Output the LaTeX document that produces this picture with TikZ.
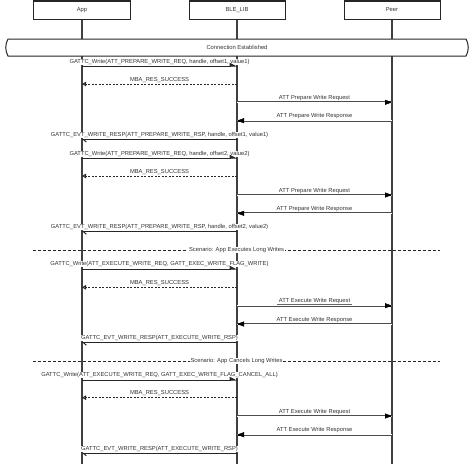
\documentclass[tikz,border=0pt]{standalone}
\usepackage{fontspec}
\setmainfont{Liberation Sans}
\usetikzlibrary{arrows.meta,calc}
\begin{document}
\begin{tikzpicture}[x=1pt,y=-1pt,
  font=\fontsize{5.8}{7}\selectfont,
  lifeline/.style={draw=black!75, line width=1.1pt},
  hdr/.style={draw=black!85, fill=white, line width=0.9pt, minimum width=97pt, minimum height=19pt, inner sep=0pt, text=black!80},
  lbl/.style={fill=white, inner xsep=0.8pt, inner ysep=0.3pt, text=black!80},
  call/.style={draw=black!85, line width=1pt, -{Triangle[left,length=6.5pt,width=6.5pt]}},
  ret/.style={draw=black!85, line width=1pt, dash pattern=on 2pt off 1.5pt, -{Triangle[open,length=4pt,width=4.5pt]}},
  evt/.style={draw=black!85, line width=1pt, -{Straight Barb[left,length=3pt,width=5pt]}},
  dbl/.style={draw=black!70, line width=0.7pt, double=white, double distance=0.8pt},
  tipline/.style={draw=black, fill=black, line width=0.4pt, -{Triangle[length=7pt,width=5pt]}},
  uline/.style={draw=black!60, line width=0.5pt},
  divider/.style={draw=black!85, line width=0.9pt, dash pattern=on 3pt off 2pt},
  connbox/.style={draw=black!85, fill=white, line width=1pt}
]
\useasboundingbox (0,0) rectangle (474,464);

% headers
\node[hdr] (app) at (82,10) {App};
\node[hdr, minimum width=96pt] (ble) at (237,10) {BLE\_LIB};
\node[hdr, minimum width=96pt] (peer) at (392,10) {Peer};
\fill[black!85] (app.north west) rectangle ($(app.north east)+(0,1.8)$);
\fill[black!85] (ble.north west) rectangle ($(ble.north east)+(0,1.8)$);
\fill[black!85] (peer.north west) rectangle ($(peer.north east)+(0,1.8)$);

% lifelines
\coordinate (append) at (82,464);
\coordinate (bleend) at (237,464);
\coordinate (peerend) at (392,464);
\draw[lifeline] (app.south) -- (append);
\draw[lifeline] (ble.south) -- (bleend);
\draw[lifeline] (peer.south) -- (peerend);

% connection established
\draw[connbox] (8,39) -- (466,39) .. controls (469,44) and (469,51) .. (466,56) -- (8,56) .. controls (5,51) and (5,44) .. (8,39) -- cycle;
\node[text=black!80, inner sep=0pt] (conn) at (237,47.5) {Connection Established};

% anchor points
\foreach \n/\y in {1/66,2/84,3/102.3,4/120.7,5/139.5,6/158,7/176,8/195,9/213.3,10/231.7,
                   11/269,12/287.3,13/305.7,14/324,15/342.7,16/380,17/397.7,18/416,19/434.7,20/453.3}{
  \coordinate (a\n) at (82,\y);
  \coordinate (b\n) at (237,\y);
  \coordinate (p\n) at (392,\y);
}

% dividers
\coordinate (d1l) at (33,250.3); \coordinate (d1r) at (440,250.3);
\coordinate (d2l) at (33,361.3); \coordinate (d2r) at (440,361.3);
\draw[divider] (d1l) -- (d1r);
\draw[divider] (d2l) -- (d2r);
\node[lbl] (div1) at ($(d1l)!0.5!(d1r)$) {Scenario: App Executes Long Writes};
\node[lbl] (div2) at ($(d2l)!0.5!(d2r)$) {Scenario: App Cancels Long Writes};

% ---- labels ----
\node[lbl] (l1) at ($(a1)!0.5!(b1)+(0,-4.3)$) {GATTC\_Write(ATT\_PREPARE\_WRITE\_REQ, handle, offset1, value1)};
\node[lbl] (l2) at ($(a2)!0.5!(b2)+(0,-4.3)$) {MBA\_RES\_SUCCESS};
\node[lbl] (l3) at ($(b3)!0.5!(p3)+(0,-4.3)$) {ATT Prepare Write Request};
\node[lbl] (l4) at ($(b4)!0.5!(p4)+(0,-4.3)$) {ATT Prepare Write Response};
\node[lbl] (l5) at ($(a5)!0.5!(b5)+(0,-4.5)$) {GATTC\_EVT\_WRITE\_RESP(ATT\_PREPARE\_WRITE\_RSP, handle, offset1, value1)};
\node[lbl] (l6) at ($(a6)!0.5!(b6)+(0,-4.5)$) {GATTC\_Write(ATT\_PREPARE\_WRITE\_REQ, handle, offset2, value2)};
\node[lbl] (l7) at ($(a7)!0.5!(b7)+(0,-4.3)$) {MBA\_RES\_SUCCESS};
\node[lbl] (l8) at ($(b8)!0.5!(p8)+(0,-4.3)$) {ATT Prepare Write Request};
\node[lbl] (l9) at ($(b9)!0.5!(p9)+(0,-4.3)$) {ATT Prepare Write Response};
\node[lbl] (l10) at ($(a10)!0.5!(b10)+(0,-4.3)$) {GATTC\_EVT\_WRITE\_RESP(ATT\_PREPARE\_WRITE\_RSP, handle, offset2, value2)};
\node[lbl] (l11) at ($(a11)!0.5!(b11)+(0,-4.6)$) {GATTC\_Write(ATT\_EXECUTE\_WRITE\_REQ, GATT\_EXEC\_WRITE\_FLAG\_WRITE)};
\node[lbl] (l12) at ($(a12)!0.5!(b12)+(0,-4.5)$) {MBA\_RES\_SUCCESS};
\node[lbl] (l13) at ($(b13)!0.5!(p13)+(0,-4.5)$) {ATT Execute Write Request};
\node[lbl] (l14) at ($(b14)!0.5!(p14)+(0,-4.3)$) {ATT Execute Write Response};
\node[lbl] (l15) at ($(a15)!0.5!(b15)+(0,-5)$) {GATTC\_EVT\_WRITE\_RESP(ATT\_EXECUTE\_WRITE\_RSP)};
\node[lbl] (l16) at ($(a16)!0.5!(b16)+(0,-5)$) {GATTC\_Write(ATT\_EXECUTE\_WRITE\_REQ, GATT\_EXEC\_WRITE\_FLAG\_CANCEL\_ALL)};
\node[lbl] (l17) at ($(a17)!0.5!(b17)+(0,-4.4)$) {MBA\_RES\_SUCCESS};
\node[lbl] (l18) at ($(b18)!0.5!(p18)+(0,-4.3)$) {ATT Execute Write Request};
\node[lbl] (l19) at ($(b19)!0.5!(p19)+(0,-4.4)$) {ATT Execute Write Response};
\node[lbl] (l20) at ($(a20)!0.5!(b20)+(0,-4.6)$) {GATTC\_EVT\_WRITE\_RESP(ATT\_EXECUTE\_WRITE\_RSP)};

% underlines of ATT labels
\foreach \n in {3,4,8,9,13,14,18,19}{
  \draw[uline] ($(l\n.south west)+(-1,0.3)$) -- ($(l\n.south east)+(1,0.3)$);
}

% ---- arrows ----
% App -> BLE calls
\foreach \n in {1,6,11,16}{ \draw[call] (a\n) -- (b\n); }
% BLE -> App returns
\foreach \n in {2,7,12,17}{ \draw[ret] (b\n) -- (a\n); }
% BLE -> App events
\foreach \n in {5,10,15,20}{ \draw[evt] (b\n) -- (a\n); }
% BLE -> Peer requests
\foreach \n in {3,8,13,18}{
  \draw[dbl] (b\n) -- (p\n);
  \draw[tipline] ($(p\n)+(-1,0)$) -- (p\n);
}
% Peer -> BLE responses
\foreach \n in {4,9,14,19}{
  \draw[dbl] (p\n) -- (b\n);
  \draw[tipline] ($(b\n)+(1,0)$) -- (b\n);
}
\end{tikzpicture}
\end{document}
